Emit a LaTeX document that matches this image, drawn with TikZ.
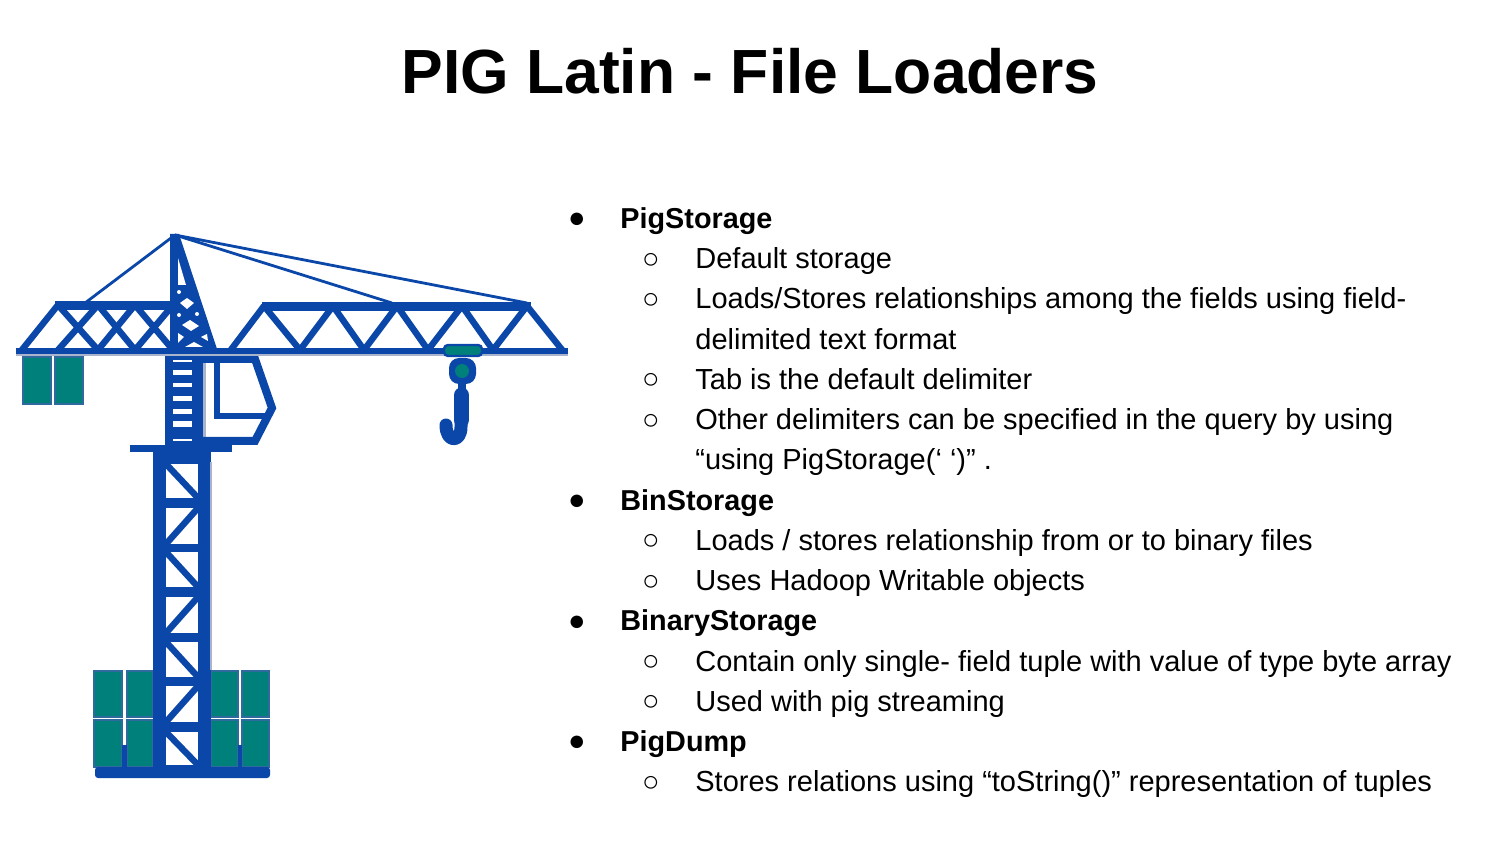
\documentclass[tikz,border=0pt]{standalone}
\usepackage{fontspec}
\setmainfont{Liberation Sans}
\usepackage{xcolor}
\usepackage{tikz}
\usetikzlibrary{positioning}
\definecolor{craneblue}{HTML}{0A47A8}
\definecolor{craneteal}{HTML}{00807A}
\definecolor{craneedge}{HTML}{2F6A9E}
\definecolor{craneshade}{HTML}{A9B3CC}
\tikzset{
	bar/.style={draw=craneblue,line width=3.2pt,line join=round},
	tie/.style={draw=craneblue,line width=1.4pt},
	hole/.style={fill=white,draw=none},
	block/.style={fill=craneteal,draw=craneedge,line width=0.6pt},
	shade/.style={draw=craneshade,line width=1pt},
	bodyline/.style={anchor=base west,inner sep=0pt,font=\fontsize{14.5}{16}\selectfont,text height=11pt,text depth=3pt},
	dotmark/.style={font=\fontsize{14.5}{16}\selectfont,inner sep=0pt},
	mainitem/.style={bodyline,font=\fontsize{14.4}{16}\selectfont\bfseries,label={[dotmark,label distance=17pt]left:●}},
	subitem/.style={bodyline,label={[dotmark,label distance=17.5pt]left:○}},
	contline/.style={bodyline}
}
\begin{document}
\begin{tikzpicture}[x=0.5pt,y=-0.5pt,node distance=20.12pt,on grid]
	\useasboundingbox (0,0) rectangle (1500,844);
	\node (title) [anchor=base,inner sep=0pt,font=\fontsize{31.2}{36}\selectfont\bfseries] at (750,94) {PIG Latin - File Loaders};

	% list
	\node (pigstorage) [mainitem] at (620,228.5) {PigStorage};
	\node (default) [below=of pigstorage.base west,subitem,xshift=37.5pt] {Default storage};
	\node (loads) [below=of default.base west,subitem] {Loads/Stores relationships among the fields using field-};
	\node (delimited) [below=of loads.base west,contline] {delimited text format};
	\node (tab) [below=of delimited.base west,subitem] {Tab is the default delimiter};
	\node (other) [below=of tab.base west,subitem] {Other delimiters can be specified in the query by using};
	\node (using) [below=of other.base west,contline] {“using PigStorage(‘ ‘)” .};
	\node (binstorage) [below=of using.base west,mainitem,xshift=-37.5pt] {BinStorage};
	\node (binary) [below=of binstorage.base west,subitem,xshift=37.5pt] {Loads / stores relationship from or to binary files};
	\node (writable) [below=of binary.base west,subitem] {Uses Hadoop Writable objects};
	\node (binarystorage) [below=of writable.base west,mainitem,xshift=-37.5pt] {BinaryStorage};
	\node (contain) [below=of binarystorage.base west,subitem,xshift=37.5pt] {Contain only single- field tuple with value of type byte array};
	\node (streaming) [below=of contain.base west,subitem] {Used with pig streaming};
	\node (pigdump) [below=of streaming.base west,mainitem,xshift=-37.5pt] {PigDump};
	\node (tostring) [below=of pigdump.base west,subitem,xshift=37.5pt] {Stores relations using “toString()” representation of tuples};

	% counterweights
	\foreach \xa/\xb in {23/51,55/83}
		\draw[block] (\xa,357) rectangle (\xb,404);
	\foreach \xa/\xb in {94/122,127/153,211/238,242/269}{
		\draw[block] (\xa,671) rectangle (\xb,717);
		\draw[block] (\xa,720) rectangle (\xb,767);
	}
	\fill[craneblue] (122,745) rectangle (127,768);
	\fill[craneblue] (238,745) rectangle (242,768);
	\fill[craneblue,rounded corners=1.5pt] (95,767) rectangle (270,778);

	% tower
	\fill[craneblue] (153,452) rectangle (211,770);
	\draw[shade] (210.5,462) -- (210.5,670);
	\foreach \ya/\yb in {464/498,508/544,552/587,597/633,642/677,686/722,732/765}
		\fill[hole] (166,\ya) rectangle (198,\yb);
	\foreach \ya/\yb in {464/498,552/587,642/677,732/765}
		\draw[bar,line width=3.2pt] (166,\ya) -- (198,\yb);
	\foreach \ya/\yb in {508/544,597/633,686/722}
		\draw[bar,line width=3.2pt] (166,\yb) -- (198,\ya);

	% cab mast
	\fill[craneblue] (165,352) rectangle (200,452);
	\foreach \ya/\yb in {360/362,370/375,383/387,396/401,409/414,421/427,439/441}
		\fill[white] (173,\ya) rectangle (192,\yb);
	\fill[craneblue] (130,445) rectangle (232,452);
	\fill[craneblue] (153,452) rectangle (211,460);

	% cab
	\draw[shade,line width=1.6pt] (204.5,363) -- (204.5,439);
	\draw[bar,line width=4pt,line join=miter] (201,359) -- (255,359) -- (272,408) -- (255,441) -- (201,441);
	\draw[bar,line width=2pt] (201,355) -- (201,445);
	\draw[bar,line width=3.2pt,line join=miter] (217,362) -- (217,416) -- (270,416);

	% jib chords
	\draw[bar,line width=3.5pt] (16,351.5) -- (568,351.5);
	\draw[shade] (16,355) -- (568,355);
	\draw[bar,line width=4.5pt] (55,306) -- (173,306);
	\draw[bar,line width=4.5pt] (262,306.5) -- (531,306.5);

	% back jib
	\draw[bar] (21,351) -- (58,305);
	\foreach \xa/\xb in {58/98,98/58,98/135,135/98,135/173,173/135}
		\draw[bar] (\xa,305) -- (\xb,350);

	% front jib
	\draw[bar] (230,351) -- (264,306) -- (300,350) -- (333,306) -- (364,350) -- (397,306) -- (428,350) -- (462,306) -- (493,350) -- (527,306) -- (563,351);

	% peak
	\fill[craneblue] (170,234) -- (179,234) -- (218,352) -- (170,352) -- cycle;
	\fill[hole] (178,258) -- (186,285) -- (178,285) -- cycle;
	\fill[hole] (180,303) -- (187,298) -- (194,303) -- (187,309) -- cycle;
	\fill[hole] (182,325) -- (190,320) -- (199,326) -- (191,331) -- cycle;
	\fill[hole] (178,333) -- (184,337) -- (178,343) -- cycle;
	\fill[hole] (207,334) -- (208,341) -- (201,337) -- cycle;
	\fill[hole] (185,347) -- (194,342) -- (203,347) -- cycle;
	\fill[hole] (179,292) circle (2);
	\fill[hole] (179,315) circle (2);
	\fill[hole] (197,314) circle (2);

	% ties
	\draw[tie] (175,235) -- (85,303);
	\draw[tie] (175,235) -- (392,303);
	\draw[tie] (175,235) -- (527,303);

	% hook
	\draw[fill=craneteal,draw=craneblue,line width=1.2pt,rounded corners=2pt] (444,345) rectangle (482,356);
	\fill[craneblue,rounded corners=5pt] (449,358) rectangle (476,384);
	\fill[craneteal] (462,371) circle (7);
	\fill[craneblue] (458,380) rectangle (466,392);
	\draw[bar,line width=7.5pt,line cap=round] (461.5,395) -- (461.5,420);
	\draw[bar,line width=6.5pt,line cap=round] (461,420) -- (461,427) .. controls (461,443) and (446,443) .. (446,425);
\end{tikzpicture}
\end{document}
